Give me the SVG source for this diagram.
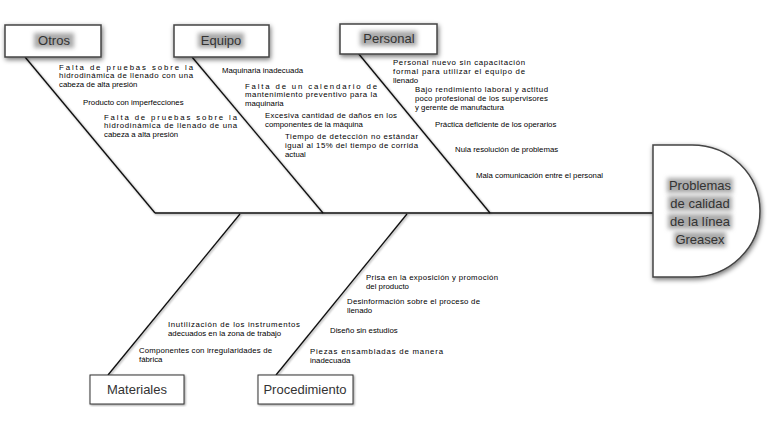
<svg xmlns="http://www.w3.org/2000/svg" width="768" height="433" viewBox="0 0 768 433">
<defs>
<filter id="sh" x="-20%" y="-30%" width="140%" height="160%"><feGaussianBlur in="SourceAlpha" stdDeviation="2.5"/><feOffset dx="1" dy="2"/><feComponentTransfer><feFuncA type="linear" slope="0.55"/></feComponentTransfer><feMerge><feMergeNode/><feMergeNode in="SourceGraphic"/></feMerge></filter>
<filter id="ls" x="-10%" y="-10%" width="120%" height="120%"><feGaussianBlur in="SourceAlpha" stdDeviation="1"/><feOffset dx="1" dy="1"/><feComponentTransfer><feFuncA type="linear" slope="0.4"/></feComponentTransfer><feMerge><feMergeNode/><feMergeNode in="SourceGraphic"/></feMerge></filter>
<filter id="glow" x="-20%" y="-40%" width="140%" height="180%"><feGaussianBlur stdDeviation="2"/></filter>
</defs>
<style>
.t{font-family:"Liberation Sans",Arial,sans-serif;font-size:7.8px;fill:#000}
.lb{font-family:"Liberation Sans",Arial,sans-serif;font-size:13px;fill:#333;text-anchor:middle}
.hb{fill:#fff;stroke:#444;stroke-width:1.5}
.bx{fill:#fff;stroke:#333;stroke-width:1}
.ln{stroke:#111;stroke-width:1.3;fill:none}
.hl{fill:#aaa;filter:url(#glow)}
</style>
<rect width="768" height="433" fill="#fff"/>
<g id="connectors" filter="url(#ls)">
<line class="ln" x1="155" y1="213" x2="655" y2="213"/>
<line class="ln" x1="25" y1="57" x2="155" y2="213"/>
<line class="ln" x1="192" y1="57" x2="323" y2="213"/>
<line class="ln" x1="358" y1="53" x2="490" y2="213"/>
<line class="ln" x1="108" y1="375" x2="240" y2="214"/>
<line class="ln" x1="276" y1="375" x2="407" y2="214"/>
</g>
<g id="otros"><rect x="5" y="25" width="96" height="32" class="hb" filter="url(#sh)"/><rect x="34" y="33" width="40" height="15" class="hl"/><text x="54" y="45" class="lb">Otros</text></g>
<g id="equipo"><rect x="174" y="25" width="95" height="32" class="hb" filter="url(#sh)"/><rect x="198" y="33" width="46" height="15" class="hl"/><text x="221" y="45" class="lb">Equipo</text></g>
<g id="personal"><rect x="340" y="24" width="97" height="30" class="hb" filter="url(#sh)"/><rect x="360" y="31" width="57" height="15" class="hl"/><text x="389" y="43" class="lb">Personal</text></g>
<g id="materiales"><rect x="90" y="375" width="94" height="29" class="bx" filter="url(#ls)"/><text x="137" y="394" class="lb">Materiales</text></g>
<g id="procedimiento"><rect x="258" y="375" width="95" height="29" class="bx" filter="url(#ls)"/><text x="305" y="394" class="lb">Procedimiento</text></g>
<g id="cabeza"><path d="M653,145 H692 A68,66 0 0 1 692,277 H653 Z" class="hb" filter="url(#sh)"/>
<rect x="667" y="178" width="66" height="15" class="hl"/><rect x="668" y="196" width="64" height="15" class="hl"/><rect x="668" y="214" width="64" height="15" class="hl"/><rect x="674" y="232" width="52" height="15" class="hl"/>
<text class="lb" x="700" y="190">Problemas</text><text class="lb" x="700" y="208">de calidad</text><text class="lb" x="700" y="226">de la línea</text><text class="lb" x="700" y="244">Greasex</text></g>
<g id="causas">
<text class="t" x="59" y="70" textLength="134" lengthAdjust="spacing">Falta de pruebas sobre la</text>
<text class="t" x="59" y="78" textLength="134" lengthAdjust="spacing">hidrodinámica de llenado con una</text>
<text class="t" x="59" y="87">cabeza de alta presión</text>
<text class="t" x="83" y="105">Producto con imperfecciones</text>
<text class="t" x="104" y="120" textLength="133" lengthAdjust="spacing">Falta de pruebas sobre la</text>
<text class="t" x="104" y="128" textLength="133" lengthAdjust="spacing">hidrodinámica de llenado de una</text>
<text class="t" x="104" y="137">cabeza a alta presión</text>
<text class="t" x="222" y="73">Maquinaria inadecuada</text>
<text class="t" x="245" y="89" textLength="132" lengthAdjust="spacing">Falta de un calendario de</text>
<text class="t" x="245" y="97" textLength="132" lengthAdjust="spacing">mantenimiento preventivo para la</text>
<text class="t" x="245" y="106">maquinaria</text>
<text class="t" x="265" y="118" textLength="132" lengthAdjust="spacing">Excesiva cantidad de daños en los</text>
<text class="t" x="265" y="127">componentes de la máquina</text>
<text class="t" x="285" y="139" textLength="133" lengthAdjust="spacing">Tiempo de detección no estándar</text>
<text class="t" x="285" y="148" textLength="133" lengthAdjust="spacing">igual al 15% del tiempo de corrida</text>
<text class="t" x="285" y="157">actual</text>
<text class="t" x="393" y="65" textLength="132" lengthAdjust="spacing">Personal nuevo sin capacitación</text>
<text class="t" x="393" y="74" textLength="132" lengthAdjust="spacing">formal para utilizar el equipo de</text>
<text class="t" x="393" y="83">llenado</text>
<text class="t" x="415" y="92" textLength="133" lengthAdjust="spacing">Bajo rendimiento laboral y actitud</text>
<text class="t" x="415" y="101" textLength="133" lengthAdjust="spacing">poco profesional de los supervisores</text>
<text class="t" x="415" y="110">y gerente de manufactura</text>
<text class="t" x="435" y="127">Práctica deficiente de los operarios</text>
<text class="t" x="455" y="152">Nula resolución de problemas</text>
<text class="t" x="476" y="178">Mala comunicación entre el personal</text>
<text class="t" x="168" y="327" textLength="132" lengthAdjust="spacing">Inutilización de los instrumentos</text>
<text class="t" x="168" y="336">adecuados en la zona de trabajo</text>
<text class="t" x="139" y="353" textLength="133" lengthAdjust="spacing">Componentes con irregularidades de</text>
<text class="t" x="139" y="362">fábrica</text>
<text class="t" x="366" y="280" textLength="132" lengthAdjust="spacing">Prisa en la exposición y promoción</text>
<text class="t" x="366" y="289">del producto</text>
<text class="t" x="347" y="304" textLength="133" lengthAdjust="spacing">Desinformación sobre el proceso de</text>
<text class="t" x="347" y="313">llenado</text>
<text class="t" x="330" y="333">Diseño sin estudios</text>
<text class="t" x="310" y="354" textLength="133" lengthAdjust="spacing">Piezas ensambladas de manera</text>
<text class="t" x="310" y="363">inadecuada</text>
</g>
</svg>
